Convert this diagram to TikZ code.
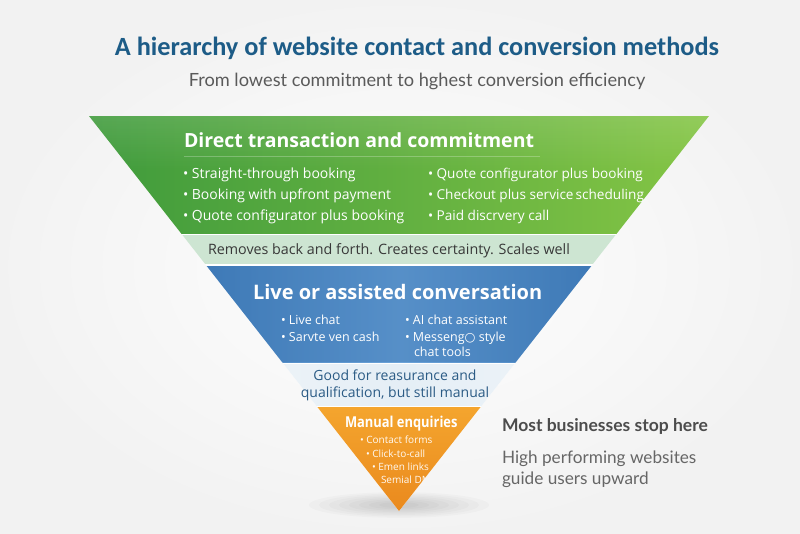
\documentclass[tikz,border=0pt]{standalone}
\usepackage{fontspec}
\setmainfont{Open Sans}
\newfontfamily\titlefont{Carlito}
\newfontfamily\latofont{Lato}
\newfontfamily\symfont{DejaVu Sans}
\newfontfamily\headfont[FakeStretch=0.86]{Open Sans}
\usetikzlibrary{shadings,fadings}
\definecolor{titleblue}{HTML}{1D5C87}
\definecolor{subgray}{HTML}{5A5A5A}
\definecolor{gdark}{HTML}{3E9A3C}
\definecolor{glight}{HTML}{86C645}
\definecolor{bandg}{HTML}{CDE5D2}
\definecolor{bdark}{HTML}{2F6CAC}
\definecolor{blight}{HTML}{6CA3D8}
\definecolor{bandb}{HTML}{D3E3F0}
\definecolor{otop}{HTML}{F4A52E}
\definecolor{obot}{HTML}{E9871C}
\definecolor{bandtext}{HTML}{2B5B85}
\definecolor{righttext}{HTML}{666666}
\tikzset{
  txt/.style={anchor=base west, inner sep=0pt, outer sep=0pt},
  ctxt/.style={anchor=base, inner sep=0pt, outer sep=0pt},
  gbul/.style={txt, text=white, font=\fontsize{14}{16}\selectfont},
  gbulr/.style={txt, text=white, font=\fontsize{13.6}{16}\selectfont},
  bbul/.style={txt, text=white, font=\fontsize{12.5}{15}\selectfont},
  obul/.style={txt, text=white!95!orange, font=\fontsize{10}{12}\selectfont},
  heading/.style={txt, text=white, font=\bfseries\fontsize{19.5}{22}\selectfont},
}
\begin{document}
\begin{tikzpicture}[x=1pt,y=-1pt]
\useasboundingbox (0,0) rectangle (800,533);
% background
\shade[inner color=white, outer color=black!5] (0,0) rectangle (800,533);
% soft shadow under apex
\foreach \r in {90,80,...,20}{
  \fill[black, opacity=0.018] (399,505) ellipse ({\r pt} and {\r/7 pt});
}
\coordinate (tl) at (89,116);
\coordinate (tr) at (709,116);
\coordinate (ap) at (399,511);
\fill[white] (tl) -- (tr) -- (ap) -- cycle;
\begin{scope}
  \clip (tl) -- (tr) -- (ap) -- cycle;
  % green
  \shade[left color=gdark, right color=glight] (80,116) rectangle (720,233);
  \fill[white, opacity=0.12, path fading=south] (80,116) rectangle (720,170);
  \draw[white, opacity=0.25] (184,156) -- (540,156);
  % light green band
  \fill[bandg] (80,235) rectangle (720,264);
  % blue
  \shade[left color=bdark, right color=bdark, middle color=blight] (80,266) rectangle (720,362);
  \fill[bdark, opacity=0.35] (80,266) rectangle (720,362);
  % light blue band
  \shade[left color=bandb!85!black!10, right color=bandb!85!black!10, middle color=bandb!60] (80,364) rectangle (720,405);
  % orange
  \shade[top color=otop, bottom color=obot] (80,407) rectangle (720,520);
  % orange texts (clipped by triangle)
  \node[txt, text=white, font=\headfont\bfseries\fontsize{15}{18}\selectfont] (oh) at (345,427) {Manual enquiries};
  \node[obul] (o1) at (360,443) {• Contact forms};
  \node[obul] (o2) at (366,457) {• Click-to-call};
  \node[obul] (o3) at (372,470) {• Emen links};
  \node[obul] (o4) at (381,483) {Semial DMS};
\end{scope}

% title
\node[ctxt, text=titleblue, font=\titlefont\bfseries\fontsize{26.3}{30}\selectfont] (title) at (417,55) {A hierarchy of website contact and conversion methods};
\node[ctxt, text=subgray, font=\latofont\fontsize{18.2}{21}\selectfont] (sub) at (417,86) {From lowest commitment to hghest conversion efficiency};

% green
\node[heading] (gh) at (184,147) {Direct transaction and commitment};
\node[gbul] (g1) at (183,178) {• Straight-through booking};
\node[gbul] (g2) at (183,199) {• Booking with upfront payment};
\node[gbul] (g3) at (183,220) {• Quote configurator plus booking};
\node[gbulr] (g4) at (428,178) {• Quote configurator plus booking};
\node[gbulr] (g5) at (428,199) {• Checkout plus service\hspace{-1.5pt} scheduling};
\node[gbulr] (g6) at (428,220) {• Paid discrvery call};
\node[txt, text=black!78, font=\fontsize{14.3}{16}\selectfont] (gband) at (208,254) {Removes back and forth. Creates certainty. Scales well};

% blue
\node[heading, font=\bfseries\fontsize{20}{22}\selectfont] (bh) at (253,299) {Live or assisted conversation};
\node[bbul] (b1) at (281,324) {• Live chat};
\node[bbul] (b2) at (281,341) {• Sarvte ven cash};
\node[bbul] (b3) at (405,324) {• AI chat assistant};
\node[bbul] (b4) at (405,341) {• Messeng{\symfont ○} style};
\node[bbul] (b5) at (414,356) {chat tools};
\node[ctxt, text=bandtext, font=\fontsize{14}{16}\selectfont] (bband1) at (395,380) {Good for reasurance and};
\node[ctxt, text=bandtext, font=\fontsize{14}{16}\selectfont] (bband2) at (395,397) {qualification, but still manual};

% right side
\node[txt, text=black!70, font=\latofont\bfseries\fontsize{17.5}{20}\selectfont] (r1) at (502,431) {Most businesses stop here};
\node[txt, text=righttext, font=\latofont\fontsize{17.2}{20}\selectfont] (r2) at (502,463) {High performing websites};
\node[txt, text=righttext, font=\latofont\fontsize{17.2}{20}\selectfont] (r3) at (502,484) {guide users upward};
\end{tikzpicture}
\end{document}
